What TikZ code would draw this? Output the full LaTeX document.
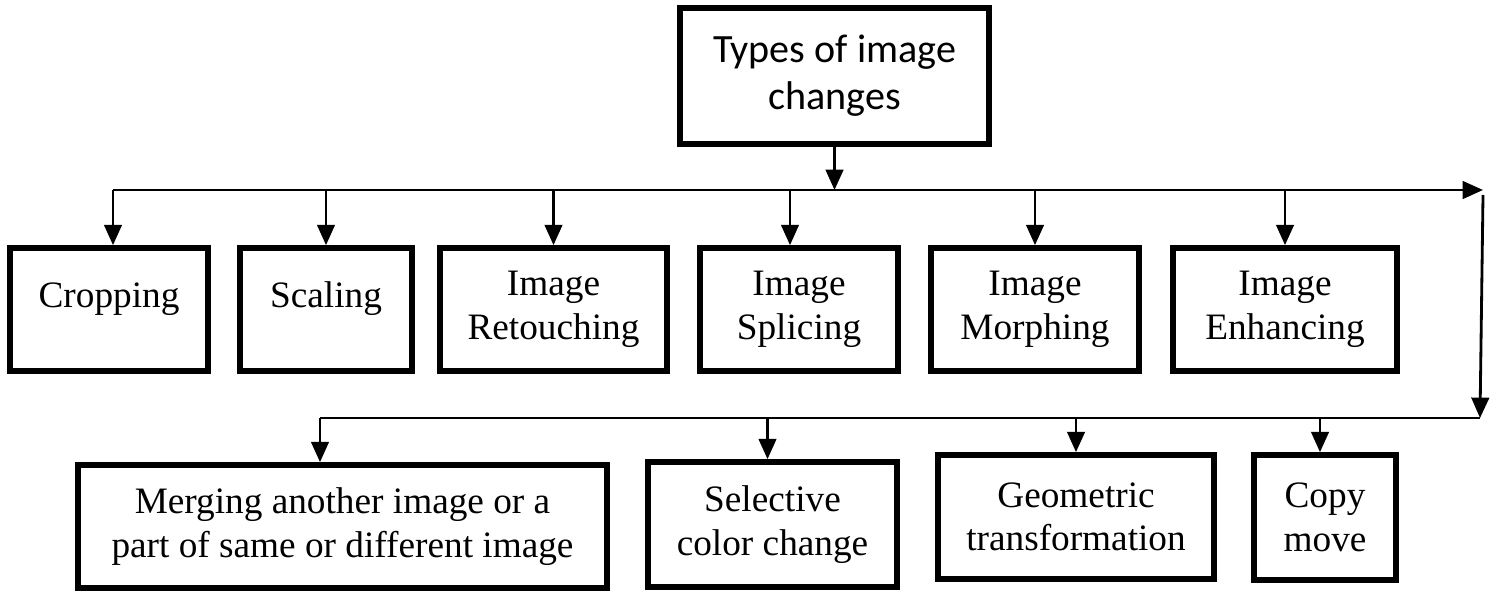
\documentclass[tikz,border=0pt]{standalone}
\usepackage{fontspec}
\setmainfont{Liberation Serif}
\newfontfamily\titlefont{Carlito}
\usetikzlibrary{arrows.meta, positioning, calc}

\begin{document}
\begin{tikzpicture}[x=0.01cm, y=-0.01cm,
    every node/.style={font=\fontsize{10.6}{12.4}\selectfont},
    box/.style={rectangle, draw, line width=1.6pt, align=center, inner sep=0pt, minimum height=1.23cm},
    arr/.style={-{Triangle[width=5pt,length=5.8pt]}, line width=0.8pt}]
                \useasboundingbox (0,0) rectangle (1500,600);
                \node[box, minimum width=3.09cm, minimum height=1.36cm, font=\titlefont\fontsize{11.4}{13.3}\selectfont] (top) at (834.5,76) {Types of image\\changes};
                % first row
                \node[box, minimum width=1.98cm, text depth=0.29cm] (crop) at (109,309.5) {Cropping};
                \node[box, minimum width=1.72cm, text depth=0.29cm] (scal) at (326,309.5) {Scaling};
                \node[box, minimum width=2.27cm] (retouch) at (553.5,309.5) {Image\\Retouching};
                \node[box, minimum width=1.98cm] (splice) at (799,309.5) {Image\\Splicing};
                \node[box, minimum width=2.08cm] (morph) at (1035,309.5) {Image\\Morphing};
                \node[box, minimum width=2.24cm] (enhance) at (1285,309.5) {Image\\Enhancing};
                % second row
                \node[box, minimum width=5.29cm] (merge) at (342.5,526.5) {Merging another image or a\\part of same or different image};
                \node[box, minimum width=2.49cm, minimum height=1.25cm] (select) at (772.5,524.5) {Selective\\color change};
                \node[box, minimum width=2.76cm, minimum height=1.24cm] (geo) at (1076,517) {Geometric\\transformation};
                \node[box, minimum width=1.42cm, minimum height=1.25cm] (copy) at (1325,517.5) {Copy\\move};
                % bus lines
                \coordinate (b1) at (113,190);
                \coordinate (b2) at (1483,190);
                \coordinate (b3) at (1480,418);
                \coordinate (b4) at (320,418);
                \draw[arr] (top.south) -- (top.south |- b1);
                \draw[arr] (b1) -- (b2);
                \draw[arr] ([yshift=-0.05cm]b2) -- (b3);
                \draw[line width=0.8pt] (b3) -- (b4);
                \draw[arr] (b1) -- (b1 |- crop.north);
                \draw[arr] (scal.north |- b1) -- (scal.north);
                \draw[arr] (retouch.north |- b1) -- (retouch.north);
                \draw[arr] ([xshift=-0.09cm]splice.north |- b1) -- ([xshift=-0.09cm]splice.north);
                \draw[arr] (morph.north |- b1) -- (morph.north);
                \draw[arr] (enhance.north |- b1) -- (enhance.north);
                \draw[arr] (b4) -- (b4 |- merge.north);
                \draw[arr] ([xshift=-0.05cm]select.north |- b4) -- ([xshift=-0.05cm]select.north);
                \draw[arr] (geo.north |- b4) -- (geo.north);
                \draw[arr] ([xshift=-0.05cm]copy.north |- b4) -- ([xshift=-0.05cm]copy.north);
\end{tikzpicture}
\end{document}
